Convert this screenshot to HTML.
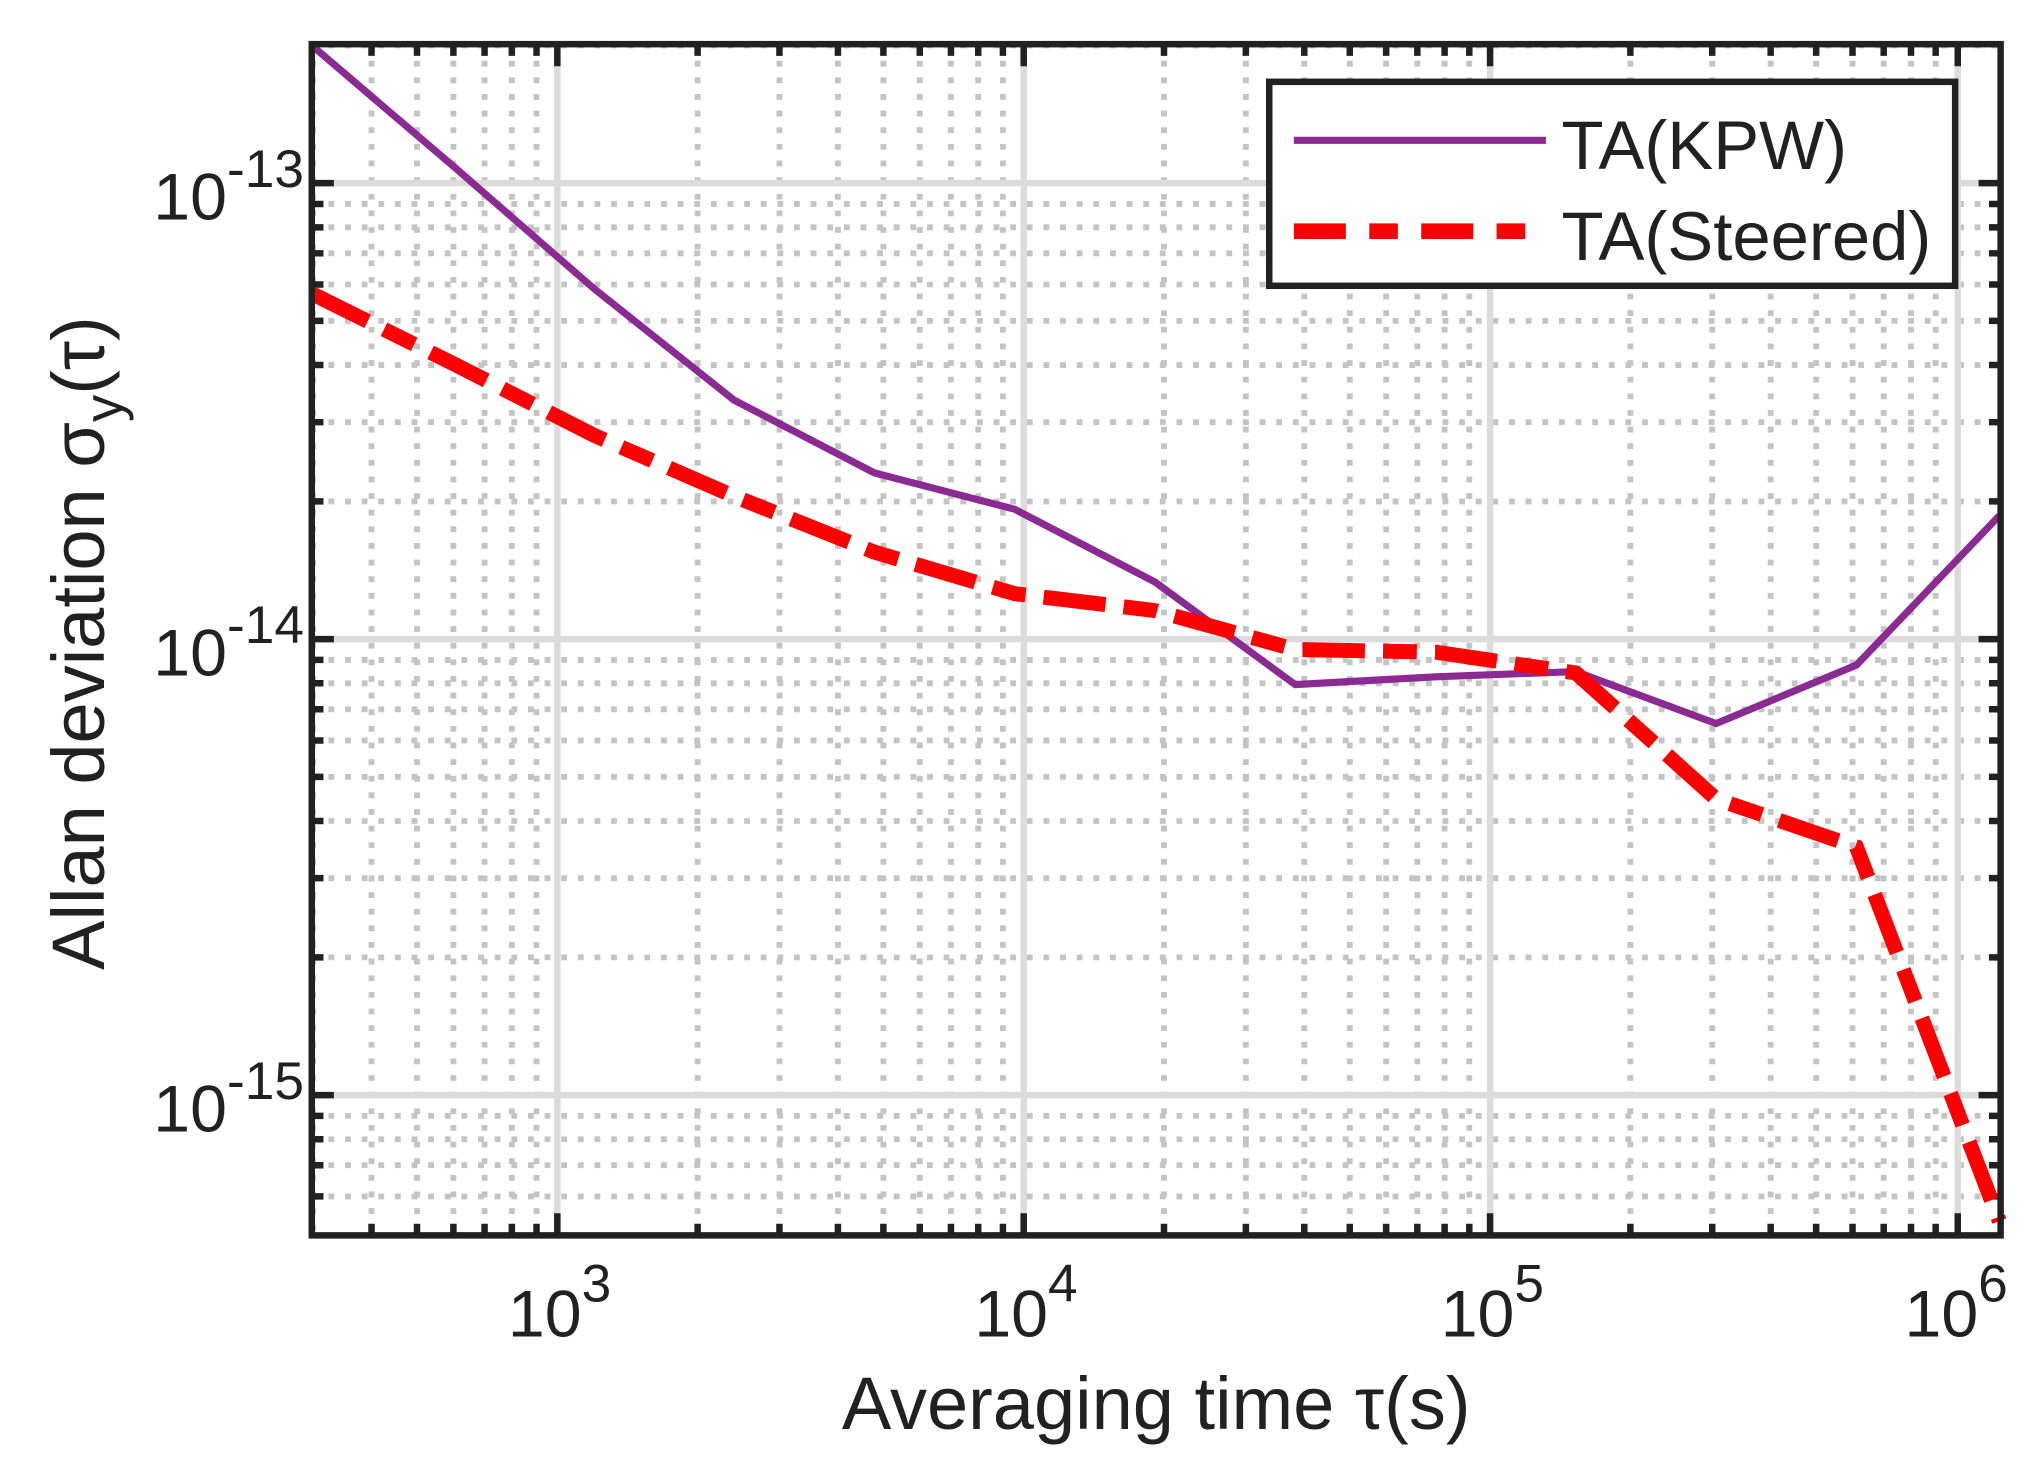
<!DOCTYPE html>
<html><head><meta charset="utf-8"><style>
html,body{margin:0;padding:0;background:#fff;}
svg{display:block;}
text{font-family:"Liberation Sans",Arial,sans-serif;fill:#212121;}
</style></head><body>
<svg width="2037" height="1477" viewBox="0 0 1568 1137" preserveAspectRatio="none" xmlns="http://www.w3.org/2000/svg">
<rect width="1568" height="1137" fill="#fff"/>
<g stroke="#c4c4c4" stroke-width="4.5" stroke-dasharray="4.5,8.3">
<path d="M241 34V951M286 34V951M321 34V951M349 34V951M373 34V951M394 34V951M413 34V951
M537 34V951M600 34V951M645 34V951M680 34V951M708 34V951M732 34V951M753 34V951M772 34V951
M896 34V951M959 34V951M1004 34V951M1039 34V951M1067 34V951M1091 34V951M1112 34V951M1131 34V951
M1255 34V951M1318 34V951M1363 34V951M1398 34V951M1426 34V951M1450 34V951M1471 34V951M1490 34V951"/>
<path d="M240 35H1540M240 386H1540M240 325H1540M240 281H1540M240 247H1540M240 219H1540M240 195H1540M240 175H1540M240 157H1540
M240 737H1540M240 676H1540M240 632H1540M240 598H1540M240 570H1540M240 546H1540M240 526H1540M240 508H1540
M240 921H1540M240 897H1540M240 877H1540M240 859H1540"/>
</g>
<g stroke="#dcdcdc" stroke-width="5">
<path d="M429 34V951M788 34V951M1147 34V951M1507 34V951M240 141H1540M240 492H1540M240 843H1540"/>
</g>
<!-- ticks -->
<g stroke="#212121" stroke-width="5">
<path d="M429 951v-17M788 951v-17M1147 951v-17M1507 951v-17M429 34v17M788 34v17M1147 34v17M1507 34v17
M240 141h17M240 492h17M240 843h17M1540 141h-17M1540 492h-17M1540 843h-17"/>
<path d="M286 951v-9M321 951v-9M349 951v-9M373 951v-9M394 951v-9M413 951v-9M537 951v-9M600 951v-9M645 951v-9M680 951v-9M708 951v-9M732 951v-9M753 951v-9M772 951v-9M896 951v-9M959 951v-9M1004 951v-9M1039 951v-9M1067 951v-9M1091 951v-9M1112 951v-9M1131 951v-9M1255 951v-9M1318 951v-9M1363 951v-9M1398 951v-9M1426 951v-9M1450 951v-9M1471 951v-9M1490 951v-9
M286 34v9M321 34v9M349 34v9M373 34v9M394 34v9M413 34v9M537 34v9M600 34v9M645 34v9M680 34v9M708 34v9M732 34v9M753 34v9M772 34v9M896 34v9M959 34v9M1004 34v9M1039 34v9M1067 34v9M1091 34v9M1112 34v9M1131 34v9M1255 34v9M1318 34v9M1363 34v9M1398 34v9M1426 34v9M1450 34v9M1471 34v9M1490 34v9
M240 386h9M240 325h9M240 281h9M240 247h9M240 219h9M240 195h9M240 175h9M240 157h9M240 737h9M240 676h9M240 632h9M240 598h9M240 570h9M240 546h9M240 526h9M240 508h9M240 921h9M240 897h9M240 877h9M240 859h9
M1540 386h-9M1540 325h-9M1540 281h-9M1540 247h-9M1540 219h-9M1540 195h-9M1540 175h-9M1540 157h-9M1540 737h-9M1540 676h-9M1540 632h-9M1540 598h-9M1540 570h-9M1540 546h-9M1540 526h-9M1540 508h-9M1540 921h-9M1540 897h-9M1540 877h-9M1540 859h-9"/>
</g>
<!-- series -->
<polyline fill="none" stroke="#8b2a92" stroke-width="5.5" points="240,35 349,128 457,222 565,308 673,364 781,392 889,448 997,527 1105,521 1213,517 1321,557 1429,512 1539,397"/>
<polyline fill="none" stroke="#ff0000" stroke-width="11.5" stroke-dasharray="48,14,26,14" points="240,226 349,280 457,335 565,382 673,425 781,457 889,470 997,500 1105,502 1213,518 1321,615 1429,652 1539,940"/>
<rect x="240" y="34" width="1300" height="917" fill="none" stroke="#212121" stroke-width="5"/>
<!-- legend -->
<rect x="977" y="63" width="528" height="157" fill="#fff" stroke="#212121" stroke-width="5"/>
<line x1="996" y1="108" x2="1190" y2="108" stroke="#8b2a92" stroke-width="5.5"/>
<line x1="996" y1="178" x2="1190" y2="178" stroke="#ff0000" stroke-width="12" stroke-dasharray="40,18,22,18"/>
<text x="1202" y="130" font-size="53">TA(KPW)</text>
<text x="1202" y="200" font-size="53">TA(Steered)</text>
<!-- tick labels -->
<g font-size="51">
<text x="391" y="1029">10<tspan font-size="41" dy="-27">3</tspan></text>
<text x="750" y="1029">10<tspan font-size="41" dy="-27">4</tspan></text>
<text x="1109" y="1029">10<tspan font-size="41" dy="-27">5</tspan></text>
<text x="1466" y="1029">10<tspan font-size="41" dy="-27">6</tspan></text>
<text x="118" y="169">10<tspan font-size="41" dy="-25">-13</tspan></text>
<text x="118" y="520">10<tspan font-size="41" dy="-25">-14</tspan></text>
<text x="118" y="871">10<tspan font-size="41" dy="-25">-15</tspan></text>
</g>
<text x="890" y="1100" font-size="57" text-anchor="middle">Averaging time τ(s)</text>
<text transform="translate(80,495) rotate(-90)" font-size="57" text-anchor="middle">Allan deviation σ<tspan font-size="42" dy="14">y</tspan><tspan dy="-14">(τ)</tspan></text>
</svg>
</body></html>
